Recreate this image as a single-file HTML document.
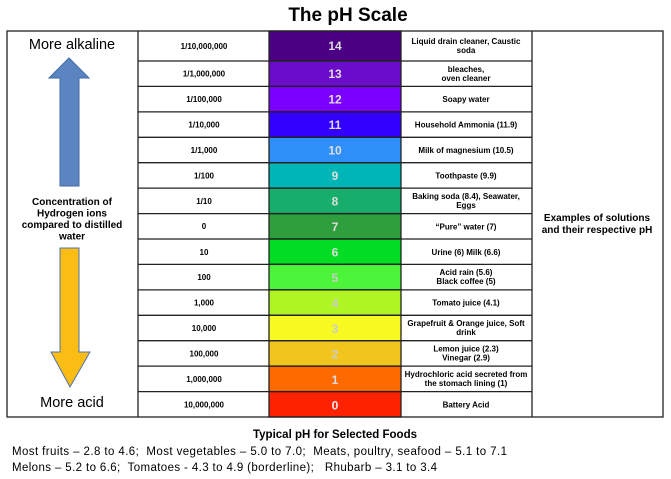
<!DOCTYPE html>
<html><head><meta charset="utf-8"><style>
body{margin:0;background:#fff;width:671px;height:479px;overflow:hidden}
svg{display:block}
.s{font-family:"Liberation Sans",Arial,sans-serif;font-size:8px;font-weight:bold;fill:#000;text-anchor:middle}
.n{font-family:"Liberation Sans",Arial,sans-serif;font-size:12px;font-weight:bold;text-anchor:middle}
.c{font-family:"Liberation Sans",sans-serif}
</style></head><body>
<svg width="671" height="479" viewBox="0 0 671 479">
<text x="348" y="21" class="c" font-size="19" font-weight="bold" text-anchor="middle">The pH Scale</text>
<g stroke="#222" stroke-width="1.3">
<rect x="269" y="31" width="132" height="30" fill="#4b0084"/>
<rect x="269" y="61" width="132" height="25.4" fill="#6a0cc9"/>
<rect x="269" y="86.4" width="132" height="25.5" fill="#7a00ff"/>
<rect x="269" y="111.9" width="132" height="25.4" fill="#3300ff"/>
<rect x="269" y="137.3" width="132" height="25.4" fill="#2f8ff8"/>
<rect x="269" y="162.7" width="132" height="25.4" fill="#00b5b5"/>
<rect x="269" y="188.1" width="132" height="25.5" fill="#16ae6a"/>
<rect x="269" y="213.6" width="132" height="25.4" fill="#2f9e3c"/>
<rect x="269" y="239" width="132" height="25.4" fill="#00dd22"/>
<rect x="269" y="264.4" width="132" height="25.5" fill="#4cf53a"/>
<rect x="269" y="289.9" width="132" height="25.4" fill="#aef523"/>
<rect x="269" y="315.3" width="132" height="25.4" fill="#f8fb22"/>
<rect x="269" y="340.7" width="132" height="25.4" fill="#f2c51e"/>
<rect x="269" y="366.1" width="132" height="25.5" fill="#ff6a00"/>
<rect x="269" y="391.6" width="132" height="25.4" fill="#ff2200"/>
</g>
<g stroke="#222" stroke-width="1.3" fill="none">
<rect x="7" y="31" width="656" height="386"/>
<line x1="138" y1="31" x2="138" y2="417"/>
<line x1="532" y1="31" x2="532" y2="417"/>
<line x1="138" y1="61" x2="532" y2="61"/>
<line x1="138" y1="86.4" x2="532" y2="86.4"/>
<line x1="138" y1="111.9" x2="532" y2="111.9"/>
<line x1="138" y1="137.3" x2="532" y2="137.3"/>
<line x1="138" y1="162.7" x2="532" y2="162.7"/>
<line x1="138" y1="188.1" x2="532" y2="188.1"/>
<line x1="138" y1="213.6" x2="532" y2="213.6"/>
<line x1="138" y1="239" x2="532" y2="239"/>
<line x1="138" y1="264.4" x2="532" y2="264.4"/>
<line x1="138" y1="289.9" x2="532" y2="289.9"/>
<line x1="138" y1="315.3" x2="532" y2="315.3"/>
<line x1="138" y1="340.7" x2="532" y2="340.7"/>
<line x1="138" y1="366.1" x2="532" y2="366.1"/>
<line x1="138" y1="391.6" x2="532" y2="391.6"/>
</g>
<g class="s">
<text x="204" y="49">1/10,000,000</text>
<text x="204" y="76.5">1/1,000,000</text>
<text x="204" y="102">1/100,000</text>
<text x="204" y="127.5">1/10,000</text>
<text x="204" y="153">1/1,000</text>
<text x="204" y="178.5">1/100</text>
<text x="204" y="204">1/10</text>
<text x="204" y="229">0</text>
<text x="204" y="255">10</text>
<text x="204" y="280">100</text>
<text x="204" y="305.5">1,000</text>
<text x="204" y="331">10,000</text>
<text x="204" y="356.5">100,000</text>
<text x="204" y="382">1,000,000</text>
<text x="204" y="407.5">10,000,000</text>
</g>
<g class="n">
<text x="335" y="50" fill="#ddd">14</text>
<text x="335" y="78" fill="#ddd">13</text>
<text x="335" y="103.5" fill="#ddd">12</text>
<text x="335" y="129" fill="#ddd">11</text>
<text x="335" y="154.5" fill="#ddd">10</text>
<text x="335" y="180" fill="#ddd">9</text>
<text x="335" y="205.5" fill="#ddd">8</text>
<text x="335" y="231" fill="#ddd">7</text>
<text x="335" y="256.5" fill="#ddd">6</text>
<text x="335" y="282" fill="#ccc">5</text>
<text x="335" y="307.5" fill="#ccc">4</text>
<text x="335" y="333" fill="#ccc">3</text>
<text x="335" y="358.5" fill="#ccc">2</text>
<text x="335" y="384" fill="#ddd">1</text>
<text x="335" y="409.5" fill="#eee">0</text>
</g>
<g class="s" font-size="7.5">
<text x="466" y="44">Liquid drain cleaner, Caustic</text>
<text x="466" y="53">soda</text>
<text x="466" y="72">bleaches,</text>
<text x="466" y="81">oven cleaner</text>
<text x="466" y="102">Soapy water</text>
<text x="466" y="127.5">Household Ammonia (11.9)</text>
<text x="466" y="153">Milk of magnesium (10.5)</text>
<text x="466" y="178.5">Toothpaste (9.9)</text>
<text x="466" y="199">Baking soda (8.4), Seawater,</text>
<text x="466" y="208">Eggs</text>
<text x="466" y="229.5">“Pure” water (7)</text>
<text x="466" y="255">Urine (6) Milk (6.6)</text>
<text x="466" y="275">Acid rain (5.6)</text>
<text x="466" y="284">Black coffee (5)</text>
<text x="466" y="305.5">Tomato juice (4.1)</text>
<text x="466" y="326">Grapefruit &amp; Orange juice, Soft</text>
<text x="466" y="335">drink</text>
<text x="466" y="351.5">Lemon juice (2.3)</text>
<text x="466" y="360.5">Vinegar (2.9)</text>
<text x="466" y="377">Hydrochloric acid secreted from</text>
<text x="466" y="386">the stomach lining (1)</text>
<text x="466" y="407.5">Battery Acid</text>
</g>
<g class="c" font-size="10" font-weight="bold" text-anchor="middle">
<text x="597" y="221">Examples of solutions</text>
<text x="597" y="233">and their respective pH</text>
<text x="72" y="205">Concentration of</text>
<text x="72" y="216.5">Hydrogen ions</text>
<text x="72" y="228">compared to distilled</text>
<text x="72" y="239.5">water</text>
</g>
<text x="72" y="49" class="c" font-size="14.5" text-anchor="middle">More alkaline</text>
<text x="72" y="407" class="c" font-size="14.5" text-anchor="middle">More acid</text>
<polygon points="69,58 89,78 79,78 79,186 60,186 60,78 49,78" fill="#5b85c0" stroke="#3f6aa6" stroke-width="1"/>
<polygon points="60,248 79,248 79,352 90,352 70,387 51,352 60,352" fill="#fbbd13" stroke="#4e73ac" stroke-width="1"/>
<text x="335" y="438" class="c" font-size="11.5" font-weight="bold" text-anchor="middle">Typical pH for Selected Foods</text>
<text x="12" y="455" class="c" font-size="11.5" textLength="495" lengthAdjust="spacing" xml:space="preserve">Most fruits – 2.8 to 4.6;  Most vegetables – 5.0 to 7.0;  Meats, poultry, seafood – 5.1 to 7.1</text>
<text x="12" y="471" class="c" font-size="11.5" textLength="425" lengthAdjust="spacing" xml:space="preserve">Melons – 5.2 to 6.6;  Tomatoes - 4.3 to 4.9 (borderline);   Rhubarb – 3.1 to 3.4</text>
</svg>
</body></html>
